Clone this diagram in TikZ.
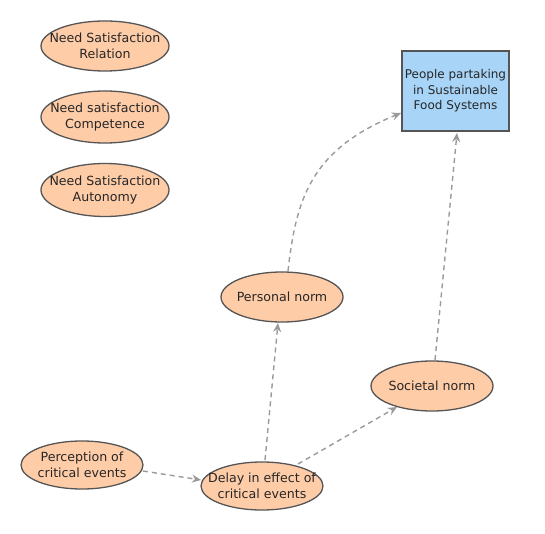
\documentclass[tikz,border=0pt]{standalone}
\usepackage{fontspec}
\setmainfont{DejaVu Sans}
\usetikzlibrary{arrows.meta,shapes.geometric}
\definecolor{peach}{HTML}{FFCCA8}
\definecolor{boxblue}{HTML}{A8D4F8}
\definecolor{edgegray}{HTML}{555555}
\definecolor{linkgray}{HTML}{9A9A9A}
\tikzset{
  ell/.style={ellipse, draw=edgegray, fill=peach, line width=1.3pt, minimum width=122pt, minimum height=48pt, inner xsep=-30pt, inner ysep=-8pt, align=center, font=\fontsize{12.6}{15.5}\selectfont, text=black!85},
  stockbox/.style={rectangle, draw=edgegray, fill=boxblue, line width=1.5pt, minimum width=107pt, minimum height=80pt, inner sep=0pt, align=center, font=\fontsize{12}{15.5}\selectfont, text=black!85},
  link/.style={draw=linkgray, line width=1.4pt, dash pattern=on 5pt off 4pt, -{Stealth[length=9pt,width=8pt]}}
}
\begin{document}
\begin{tikzpicture}[x=1pt,y=-1pt]
\useasboundingbox (0,0) rectangle (545,534);
\node[ell, minimum width=128pt, minimum height=50pt] (rel) at (105,46) {Need Satisfaction\\Relation};
\node[ell, minimum width=128pt, minimum height=52pt] (comp) at (105,117) {Need satisfaction\\Competence};
\node[ell, minimum width=128pt, minimum height=53pt] (aut) at (105,190) {Need Satisfaction\\Autonomy};
\node[stockbox] (people) at (455.5,91) {People partaking\\in Sustainable\\Food Systems};
\node[ell, minimum height=50pt] (pers) at (282,297) {Personal norm};
\node[ell, minimum height=50pt] (soc) at (432,386) {Societal norm};
\node[ell] (perc) at (82,465) {Perception of\\critical events};
\node[ell] (delay) at (262,486) {Delay in effect of\\critical events};
\coordinate (pe) at (143,471);
\coordinate (de) at (201,480);
\draw[link] (pe) -- (de);
\coordinate (d1) at (265,460);
\coordinate (p1) at (278,323);
\draw[link] (d1) -- (p1);
\coordinate (d2) at (298,464);
\coordinate (s1) at (397,407);
\draw[link] (d2) -- (s1);
\coordinate (p2) at (288,271);
\coordinate (b1) at (401,113);
\draw[link] (p2) .. controls (296,200) and (310,150) .. (b1);
\coordinate (s2) at (435,360);
\coordinate (b2) at (457,133);
\draw[link] (s2) -- (b2);
\end{tikzpicture}
\end{document}
